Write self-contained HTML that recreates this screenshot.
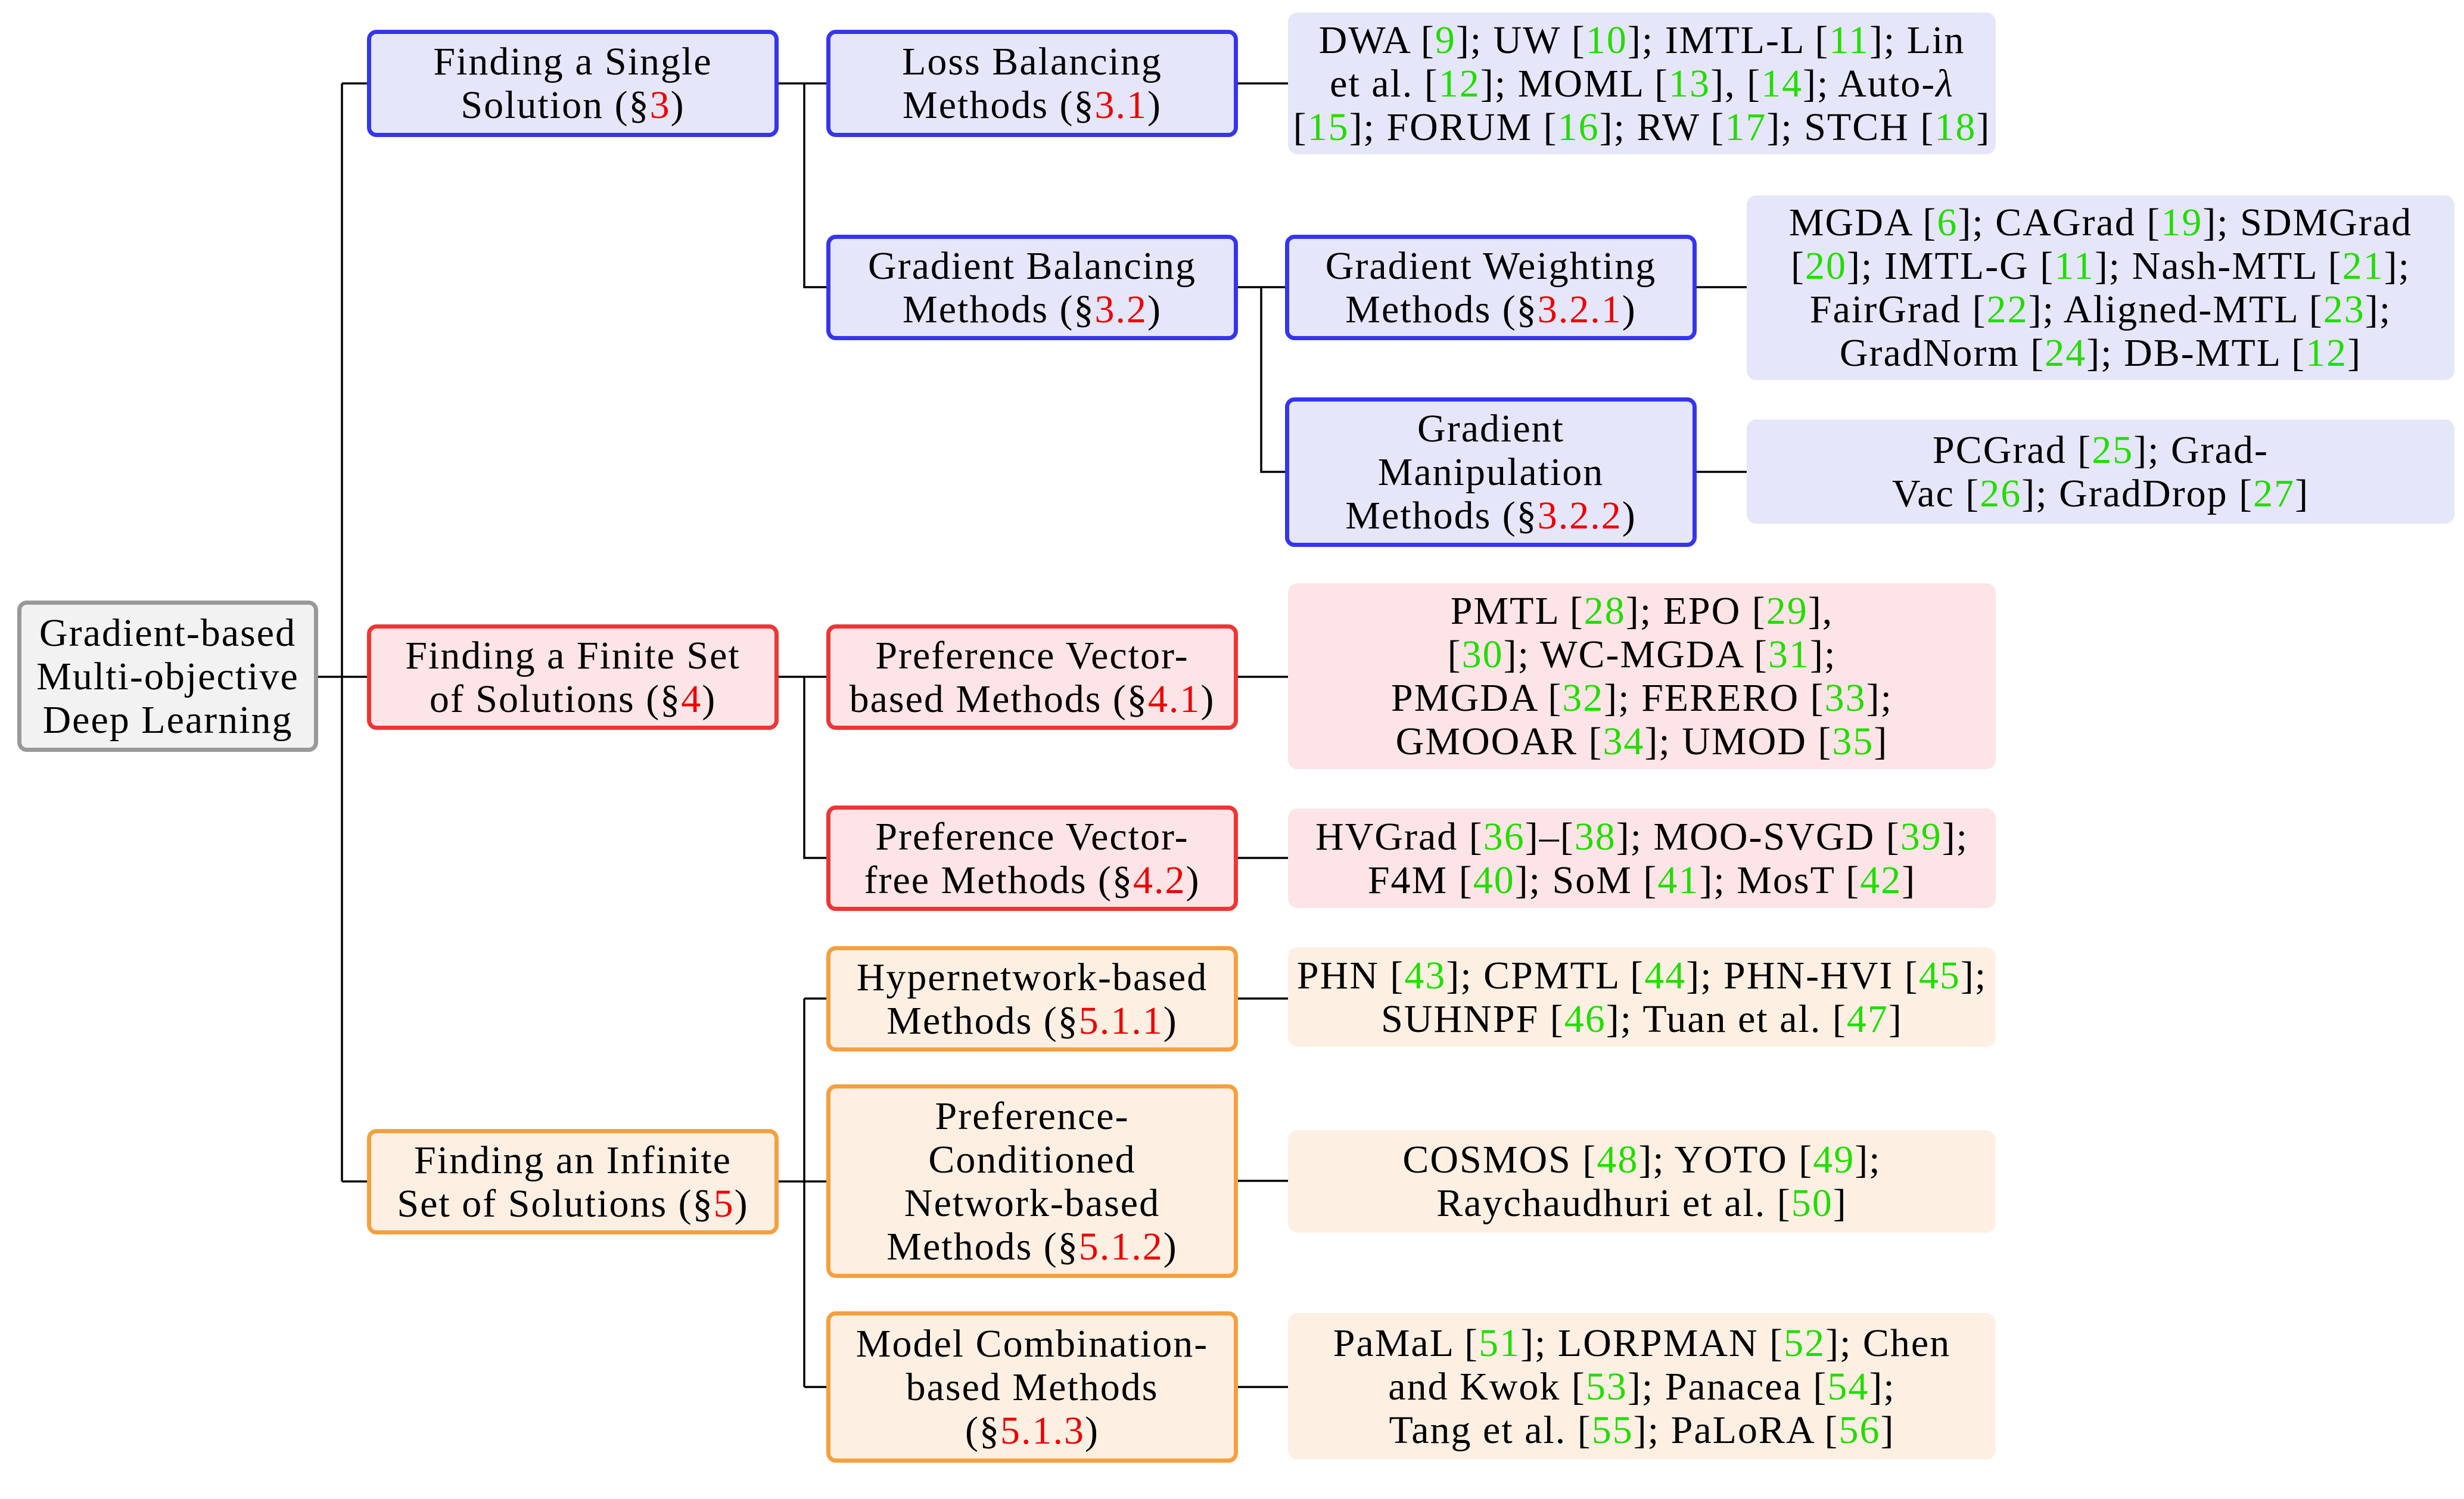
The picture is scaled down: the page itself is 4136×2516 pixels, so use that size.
<!DOCTYPE html>
<html><head><meta charset="utf-8"><style>
body{margin:0;width:4136px;height:2516px;background:#fff;position:relative;overflow:hidden;font-family:"Liberation Serif",serif;}
.b{position:absolute;box-sizing:border-box;display:flex;align-items:center;justify-content:center;text-align:center;font-size:66px;letter-spacing:2px;line-height:73px;color:#000;border-radius:16px;}
.b>div{width:100%;white-space:nowrap;}
.g{background:#f2f2f2;border:7px solid #999;}
.bl{background:#e6e6fa;border:7px solid #3535ee;}
.rd{background:#fde4e6;border:7px solid #ee3535;}
.or{background:#fdf0e3;border:7px solid #f5a040;}
.lb{background:#e6e6fa;}
.lr{background:#fde4e6;}
.lo{background:#fdf0e3;}
.r{color:#ee0000}.n{color:#22dd00}
svg{position:absolute;left:0;top:0}
</style></head><body>
<svg width="4136" height="2516"><g stroke="#000" stroke-width="3.5" fill="none">
<path d="M534 1136H616M574 140V1983M574 140H616M574 1983H616"/>
<path d="M1307 140H1387M1350 140V482H1387"/>
<path d="M1307 1136H1387M1350 1136V1440H1387"/>
<path d="M1307 1983H1387M1350 1676V2328M1350 1676H1387M1350 2328H1387"/>
<path d="M2078 482H2157M2117 482V792H2157"/>
<path d="M2078 140H2162M2078 1136H2162M2078 1440H2162M2078 1676H2162M2078 1982H2162M2078 2328H2162M2848 482H2932M2848 792H2932"/>
</g></svg>
<div class="b g" style="left:29px;top:1008px;width:505px;height:254px"><div>Gradient-based<br>Multi-objective<br>Deep Learning</div></div>
<div class="b bl" style="left:616px;top:50px;width:691px;height:180px"><div>Finding a Single<br>Solution (§<span class="r">3</span>)</div></div>
<div class="b rd" style="left:616px;top:1048px;width:691px;height:177px"><div>Finding a Finite Set<br>of Solutions (§<span class="r">4</span>)</div></div>
<div class="b or" style="left:616px;top:1895px;width:691px;height:177px"><div>Finding an Infinite<br>Set of Solutions (§<span class="r">5</span>)</div></div>
<div class="b bl" style="left:1387px;top:50px;width:691px;height:180px"><div>Loss Balancing<br>Methods (§<span class="r">3.1</span>)</div></div>
<div class="b bl" style="left:1387px;top:394px;width:691px;height:177px"><div>Gradient Balancing<br>Methods (§<span class="r">3.2</span>)</div></div>
<div class="b rd" style="left:1387px;top:1048px;width:691px;height:177px"><div>Preference Vector-<br>based Methods (§<span class="r">4.1</span>)</div></div>
<div class="b rd" style="left:1387px;top:1352px;width:691px;height:177px"><div>Preference Vector-<br>free Methods (§<span class="r">4.2</span>)</div></div>
<div class="b or" style="left:1387px;top:1588px;width:691px;height:177px"><div>Hypernetwork-based<br>Methods (§<span class="r">5.1.1</span>)</div></div>
<div class="b or" style="left:1387px;top:1820px;width:691px;height:325px"><div>Preference-<br>Conditioned<br>Network-based<br>Methods (§<span class="r">5.1.2</span>)</div></div>
<div class="b or" style="left:1387px;top:2201px;width:691px;height:254px"><div>Model Combination-<br>based Methods<br>(§<span class="r">5.1.3</span>)</div></div>
<div class="b bl" style="left:2157px;top:394px;width:691px;height:177px"><div>Gradient Weighting<br>Methods (§<span class="r">3.2.1</span>)</div></div>
<div class="b bl" style="left:2157px;top:667px;width:691px;height:251px"><div>Gradient<br>Manipulation<br>Methods (§<span class="r">3.2.2</span>)</div></div>
<div class="b lb" style="left:2162px;top:21px;width:1188px;height:238px"><div>DWA [<span class="n">9</span>]; UW [<span class="n">10</span>]; IMTL-L [<span class="n">11</span>]; Lin<br>et al. [<span class="n">12</span>]; MOML [<span class="n">13</span>], [<span class="n">14</span>]; Auto-<i>λ</i><br>[<span class="n">15</span>]; FORUM [<span class="n">16</span>]; RW [<span class="n">17</span>]; STCH [<span class="n">18</span>]</div></div>
<div class="b lb" style="left:2932px;top:328px;width:1188px;height:310px"><div>MGDA [<span class="n">6</span>]; CAGrad [<span class="n">19</span>]; SDMGrad<br>[<span class="n">20</span>]; IMTL-G [<span class="n">11</span>]; Nash-MTL [<span class="n">21</span>];<br>FairGrad [<span class="n">22</span>]; Aligned-MTL [<span class="n">23</span>];<br>GradNorm [<span class="n">24</span>]; DB-MTL [<span class="n">12</span>]</div></div>
<div class="b lb" style="left:2932px;top:704px;width:1188px;height:175px"><div>PCGrad [<span class="n">25</span>]; Grad-<br>Vac [<span class="n">26</span>]; GradDrop [<span class="n">27</span>]</div></div>
<div class="b lr" style="left:2162px;top:979px;width:1188px;height:312px"><div>PMTL [<span class="n">28</span>]; EPO [<span class="n">29</span>],<br>[<span class="n">30</span>]; WC-MGDA [<span class="n">31</span>];<br>PMGDA [<span class="n">32</span>]; FERERO [<span class="n">33</span>];<br>GMOOAR [<span class="n">34</span>]; UMOD [<span class="n">35</span>]</div></div>
<div class="b lr" style="left:2162px;top:1357px;width:1188px;height:167px"><div>HVGrad [<span class="n">36</span>]–[<span class="n">38</span>]; MOO-SVGD [<span class="n">39</span>];<br>F4M [<span class="n">40</span>]; SoM [<span class="n">41</span>]; MosT [<span class="n">42</span>]</div></div>
<div class="b lo" style="left:2162px;top:1590px;width:1188px;height:167px"><div>PHN [<span class="n">43</span>]; CPMTL [<span class="n">44</span>]; PHN-HVI [<span class="n">45</span>];<br>SUHNPF [<span class="n">46</span>]; Tuan et al. [<span class="n">47</span>]</div></div>
<div class="b lo" style="left:2162px;top:1897px;width:1188px;height:172px"><div>COSMOS [<span class="n">48</span>]; YOTO [<span class="n">49</span>];<br>Raychaudhuri et al. [<span class="n">50</span>]</div></div>
<div class="b lo" style="left:2162px;top:2204px;width:1188px;height:246px"><div>PaMaL [<span class="n">51</span>]; LORPMAN [<span class="n">52</span>]; Chen<br>and Kwok [<span class="n">53</span>]; Panacea [<span class="n">54</span>];<br>Tang et al. [<span class="n">55</span>]; PaLoRA [<span class="n">56</span>]</div></div>
</body></html>
